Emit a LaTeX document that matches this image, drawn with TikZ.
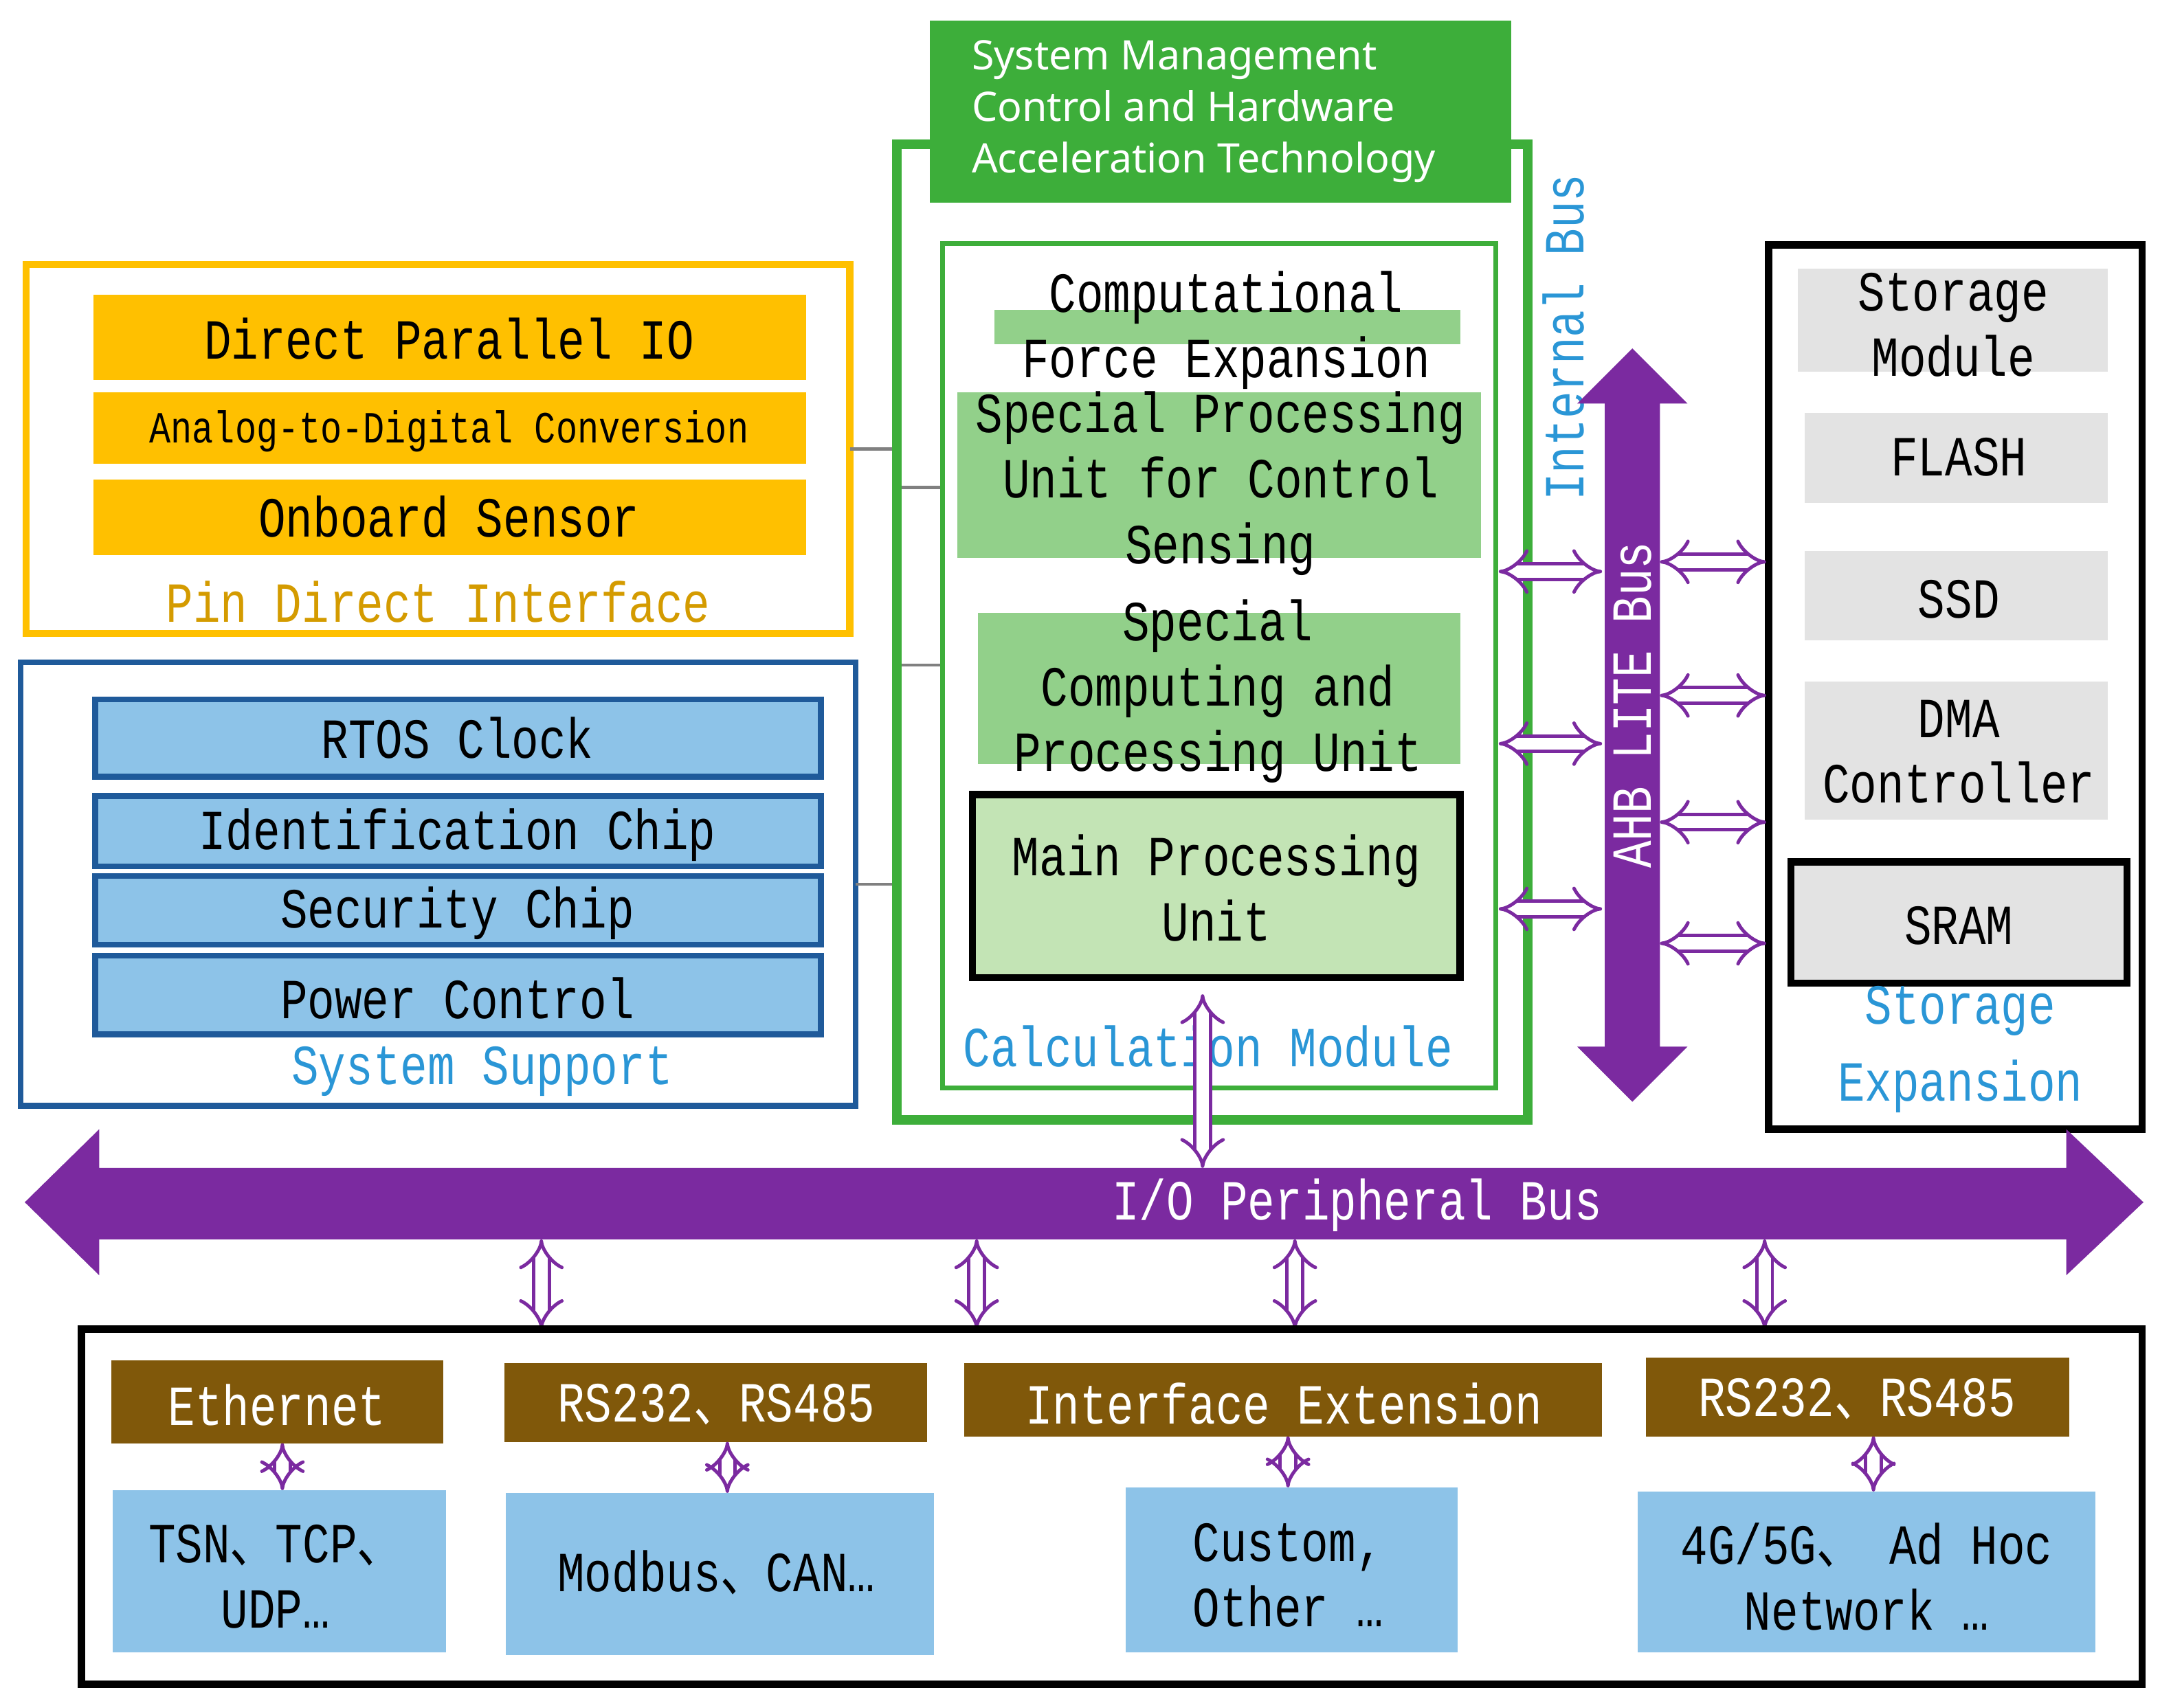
\documentclass[tikz,border=0pt]{standalone}
\usepackage{fontspec}
\setmainfont{Liberation Mono}[FakeStretch=0.8]
\newfontfamily\sansf{Noto Sans}
\newfontfamily\cjk{Noto Sans CJK SC}[FakeStretch=0.8]
\usetikzlibrary{arrows.meta}
\definecolor{gold}{HTML}{FFC000}
\definecolor{golddark}{HTML}{D49B00}
\definecolor{bluefill}{HTML}{8DC3E8}
\definecolor{blueline}{HTML}{1F5A9A}
\definecolor{bluetext}{HTML}{2A96D6}
\definecolor{purp}{HTML}{7B2AA0}
\definecolor{grn}{HTML}{3DAE3A}
\definecolor{lgrn}{HTML}{92D08A}
\definecolor{mgrn}{HTML}{C3E4B5}
\definecolor{brn}{HTML}{80580A}
\definecolor{gry}{HTML}{E3E3E3}
\newcommand{\dun}{{\cjk 、}}
\tikzset{
  orbar/.style={fill=gold, draw=none},
  blbar/.style={fill=bluefill, draw=blueline, line width=1.2pt},
  gybox/.style={fill=gry, draw=none},
  brbox/.style={fill=brn, draw=none},
  lbl/.style={font=\fontsize{11.7}{13.5}\selectfont, align=center, inner sep=1pt},
  dbl/.style={draw=purp, double=white, double distance=2.5pt, line width=0.7pt, {Implies[length=3pt]}-{Implies[length=3pt]}},
  link/.style={draw=gray, line width=0.6pt}
}
\begin{document}
\begin{tikzpicture}[x=0.01cm, y=-0.01cm]
\useasboundingbox (0,0) rectangle (1568,1240);
% pin direct interface
\draw[gold, line width=1.5pt] (19,192) rectangle (617,460);
\fill[orbar] (68,214) rectangle (585,276);
\node[lbl] (dpio) at (326,246) {Direct Parallel IO};
\fill[orbar] (68,285) rectangle (585,337);
\node[lbl, font=\fontsize{9.2}{11}\selectfont] (adc) at (326,313) {Analog-to-Digital Conversion};
\fill[orbar] (68,348) rectangle (585,403);
\node[lbl] (obs) at (326,375) {Onboard Sensor};
\node[lbl, text=golddark] (pdi) at (318,437) {Pin Direct Interface};
% system support
\draw[blueline, line width=1.2pt] (15,481) rectangle (621,803);
\draw[blbar] (69,508) rectangle (596,564);
\node[lbl] (rtos) at (332,536) {RTOS Clock};
\draw[blbar] (69,578) rectangle (596,629);
\node[lbl] (idc) at (332,606) {Identification Chip};
\draw[blbar] (69,636) rectangle (596,686);
\node[lbl] (sec) at (332,663) {Security Chip};
\draw[blbar] (69,694) rectangle (596,751);
\node[lbl] (pwr) at (332,725) {Power Control};
\node[lbl, text=bluetext] (ss) at (350,778) {System Support};
% links
\draw[link] (617,326) -- (651,326);
\draw[link] (651,354) -- (684,354);
\draw[link] (651,483) -- (684,483);
\draw[link] (621,642) -- (651,642);
% green system management
\draw[grn, line width=2pt] (651,105) rectangle (1109,813);
\fill[grn] (675,15) rectangle (1097,147);
\node[font=\sansf\fontsize{8.4}{10.6}\selectfont, text=white, align=left, anchor=west] (smc) at (693,81) {System Management\\Control and Hardware\\Acceleration Technology};
\draw[grn, line width=1pt] (684,177) rectangle (1086,790);
\fill[lgrn] (722,225) rectangle (1060,250);
\node[lbl] (cfe) at (890,240) {Computational\\Force Expansion};
\fill[lgrn] (695,285) rectangle (1075,405);
\node[lbl] (spu) at (886,351) {Special Processing\\Unit for Control\\Sensing};
\fill[lgrn] (710,445) rectangle (1060,555);
\node[lbl] (scp) at (884,502) {Special\\Computing and\\Processing Unit};
\draw[fill=mgrn, line width=1.5pt] (706,577) rectangle (1060,710);
\node[lbl] (mpu) at (883,645) {Main Processing\\Unit};
\node[lbl, text=bluetext] (cm) at (877,760) {Calculation Module};
\node[lbl, text=bluetext, rotate=90] (ib) at (1135,245) {Internal Bus};
% AHB bus
\fill[purp] (1185,253) -- (1225,293) -- (1205,293) -- (1205,760) -- (1225,760) -- (1185,800) -- (1145,760) -- (1165,760) -- (1165,293) -- (1145,293) -- cycle;
\node[lbl, text=white, rotate=90] (ahb) at (1185,512) {AHB LITE Bus};
\coordinate (ahbL1) at (1163,415); \coordinate (cmR1) at (1088,415);
\coordinate (ahbL2) at (1163,540); \coordinate (cmR2) at (1088,540);
\coordinate (ahbL3) at (1163,660); \coordinate (cmR3) at (1088,660);
\draw[dbl] (cmR1) -- (ahbL1);
\draw[dbl] (cmR2) -- (ahbL2);
\draw[dbl] (cmR3) -- (ahbL3);
% storage
\draw[line width=1.5pt] (1284,178) rectangle (1555,820);
\fill[gybox] (1305,195) rectangle (1530,270);
\node[lbl] (sm) at (1418,236) {Storage\\Module};
\fill[gybox] (1310,300) rectangle (1530,365);
\node[lbl] (flash) at (1422,332) {FLASH};
\fill[gybox] (1310,400) rectangle (1530,465);
\node[lbl] (ssd) at (1422,435) {SSD};
\fill[gybox] (1310,495) rectangle (1530,595);
\node[lbl] (dma) at (1422,546) {DMA\\Controller};
\draw[fill=gry, line width=1.5pt] (1300,626) rectangle (1544,714);
\node[lbl] (sram) at (1422,672) {SRAM};
\node[lbl, text=bluetext, font=\fontsize{11.7}{16}\selectfont] (se) at (1423,762) {Storage\\Expansion};
\foreach \yy in {408,505,597,685} \draw[dbl] (1205,\yy) -- (1282,\yy);
% IO bus
\fill[purp] (18,873) -- (72,820) -- (72,848) -- (1500,848) -- (1500,820) -- (1556,873) -- (1500,926) -- (1500,900) -- (72,900) -- (72,926) -- cycle;
\node[lbl, text=white] (iob) at (985,875) {I/O Peripheral Bus};
\coordinate (mpuB) at (873,722); \coordinate (busT) at (873,848);
\draw[dbl] (mpuB) -- (busT);
\foreach \xx in {393,709,940,1281} \draw[dbl] (\xx,900) -- (\xx,965);
% bottom
\draw[line width=1.5pt] (59,965) rectangle (1555,1223);
\fill[brbox] (81,988) rectangle (322,1048);
\node[lbl, text=white] (eth) at (201,1020) {Ethernet};
\fill[brbox] (366,990) rectangle (673,1047);
\node[lbl, text=white] (rs1) at (520,1020) {RS232\dun RS485};
\fill[brbox] (700,990) rectangle (1163,1043);
\node[lbl, text=white] (ie) at (932,1019) {Interface Extension};
\fill[brbox] (1195,986) rectangle (1502,1043);
\node[lbl, text=white] (rs2) at (1348,1016) {RS232\dun RS485};
\fill[bluefill] (82,1082) rectangle (324,1200);
\node[lbl] (tsn) at (200,1145) {TSN\dun TCP\dun\\UDP…};
\fill[bluefill] (367,1084) rectangle (678,1202);
\node[lbl] (mod) at (520,1142) {Modbus\dun CAN…};
\fill[bluefill] (817,1080) rectangle (1058,1200);
\node[lbl] (cus) at (935,1144) {Custom,\\Other …};
\fill[bluefill] (1189,1083) rectangle (1521,1200);
\node[lbl] (g45) at (1355,1145) {4G/5G\dun{} Ad Hoc\\Network …};
\draw[dbl] (205,1048) -- (205,1082);
\draw[dbl] (528,1047) -- (528,1084);
\draw[dbl] (935,1043) -- (935,1080);
\draw[dbl] (1360,1043) -- (1360,1083);
\end{tikzpicture}
\end{document}
